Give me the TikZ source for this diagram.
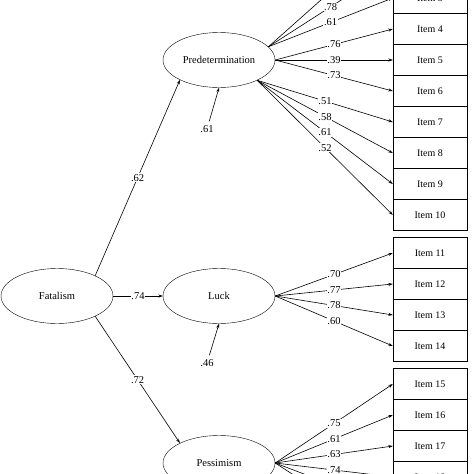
\documentclass[tikz,border=0pt]{standalone}
\usepackage{fontspec}
\setmainfont{Liberation Serif}
\usetikzlibrary{shapes.geometric, arrows.meta}

\begin{document}
\begin{tikzpicture}[x=1pt, y=-1pt,
  latent/.style={draw, ellipse, minimum width=112pt, minimum height=55pt, inner sep=0pt, font=\fontsize{10.5}{12}\selectfont},
  item/.style={draw, rectangle, minimum width=74pt, minimum height=31pt, inner sep=0pt, font=\fontsize{10}{12}\selectfont},
  loading/.style={fill=white, inner sep=0.8pt, font=\fontsize{10.5}{12}\selectfont},
  resid/.style={inner sep=4pt, font=\fontsize{10.5}{12}\selectfont},
  arr/.style={-{Stealth[length=4.5pt, width=3pt]}, line width=0.6pt}]
\useasboundingbox (0, 0) rectangle (474, 474);
\clip (0, 0) rectangle (474, 474);
\node [latent] (Fat) at (57, 296) {Fatalism};
\node [latent] (Pre) at (219, 60) {Predetermination};
\node [latent] (Luck) at (219, 296) {Luck};
\node [latent] (Pes) at (219, 463) {Pessimism};
\node [resid] (E1) at (207, 129) {.61};
\node [resid] (E2) at (207, 363) {.46};
\node [item] (I1) at (430, -64) {Item 1};
\node [item] (I2) at (430, -33) {Item 2};
\node [item] (I3) at (430, -2) {Item 3};
\node [item] (I4) at (430, 29) {Item 4};
\node [item] (I5) at (430, 60) {Item 5};
\node [item] (I6) at (430, 91) {Item 6};
\node [item] (I7) at (430, 122) {Item 7};
\node [item] (I8) at (430, 153) {Item 8};
\node [item] (I9) at (430, 184) {Item 9};
\node [item] (I10) at (430, 215) {Item 10};
\node [item] (I11) at (430, 253) {Item 11};
\node [item] (I12) at (430, 284) {Item 12};
\node [item] (I13) at (430, 315) {Item 13};
\node [item] (I14) at (430, 346) {Item 14};
\node [item] (I15) at (430, 384) {Item 15};
\node [item] (I16) at (430, 415) {Item 16};
\node [item] (I17) at (430, 446) {Item 17};
\node [item] (I18) at (430, 477) {Item 18};
\node [item] (I19) at (430, 508) {Item 19};
\node [item] (I20) at (430, 539) {Item 20};
% second order paths
\draw [arr] (Fat.28) -- node [loading] {.62} (Pre.207);
\draw [arr] (Fat.east) -- node [loading] {.74} (Luck.west);
\draw [arr] (Fat.332) -- node [loading] {.72} (Pes.153);
\draw [arr] (E1) -- (Pre.south);
\draw [arr] (E2) -- (Luck.south);
% predetermination items
\draw [arr] (Pre.15) -- node [loading, pos=0.46] {.69} (I1.west);
\draw [arr] (Pre.15) -- node [loading] {.78} (I2.west);
\draw [arr] (Pre.15) -- node [loading] {.61} (I3.west);
\draw [arr] (Pre.east) -- node [loading] {.76} (I4.west);
\draw [arr] (Pre.east) -- node [loading] {.39} (I5.west);
\draw [arr] (Pre.east) -- node [loading] {.73} (I6.west);
\draw [arr] (Pre.332) -- node [loading] {.51} (I7.west);
\draw [arr] (Pre.332) -- node [loading] {.58} (I8.west);
\draw [arr] (Pre.332) -- node [loading] {.61} (I9.west);
\draw [arr] (Pre.332) -- node [loading] {.52} (I10.west);
% luck items
\draw [arr] (Luck.east) -- node [loading] {.70} (I11.west);
\draw [arr] (Luck.east) -- node [loading] {.77} (I12.west);
\draw [arr] (Luck.east) -- node [loading] {.78} (I13.west);
\draw [arr] (Luck.east) -- node [loading] {.60} (I14.west);
% pessimism items
\draw [arr] (Pes.east) -- node [loading] {.75} (I15.west);
\draw [arr] (Pes.east) -- node [loading] {.61} (I16.west);
\draw [arr] (Pes.east) -- node [loading] {.63} (I17.west);
\draw [arr] (Pes.east) -- node [loading] {.74} (I18.west);
\draw [arr] (Pes.east) -- (I19.west);
\draw [arr] (Pes.east) -- (I20.west);
\end{tikzpicture}
\end{document}
